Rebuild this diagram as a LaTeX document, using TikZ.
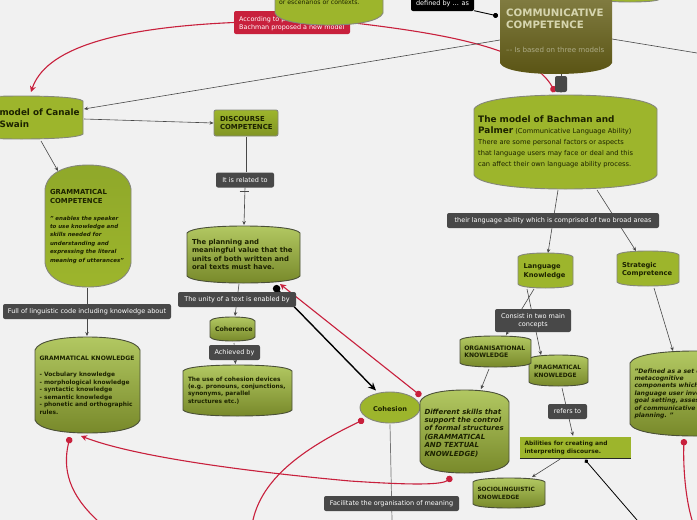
\documentclass[tikz,border=0pt]{standalone}
\usepackage{fontspec}
\setmainfont{DejaVu Sans}
\usetikzlibrary{arrows.meta,calc,shapes.geometric,backgrounds}
\definecolor{paper}{HTML}{F1F1F1}
\definecolor{gflat}{HTML}{9DB52C}
\definecolor{gtop}{HTML}{B2C862}
\definecolor{gmid}{HTML}{99B02B}
\definecolor{gbot}{HTML}{78892A}
\definecolor{gctop}{HTML}{8FA82A}
\definecolor{edgegray}{HTML}{85877A}
\definecolor{edgedark}{HTML}{4A4F38}
\definecolor{lab}{HTML}{484848}
\definecolor{redc}{HTML}{C8203C}
\definecolor{ink}{HTML}{1C2200}
\definecolor{otop}{HTML}{949058}
\definecolor{obot}{HTML}{5A5414}
\definecolor{otext}{HTML}{D6D5AE}
\definecolor{osub}{HTML}{ADAB86}
\pgfdeclarelayer{conn}
\pgfsetlayers{background,conn,main}
\tikzset{
  flatblob/.style={fill=gflat,draw=edgegray,line width=0.9pt},
  gradblob/.style={top color=gtop,middle color=gmid,bottom color=gbot,draw=edgedark,line width=0.9pt},
  labelbox/.style={fill=lab,text=white,rounded corners=2pt,inner sep=1pt,align=center,font=\fontsize{6.5}{8}\selectfont},
  thin link/.style={draw=lab,line width=0.6pt,-{Stealth[length=4pt,width=3.5pt]}},
  plain link/.style={draw=lab,line width=0.6pt},
  red link/.style={draw=redc,line width=1.1pt},
  redarrow/.style={-{Stealth[length=6pt,width=6pt]}},
  reddot/.style={{Circle[length=6.5pt]}-},
  reddotarrow/.style={{Circle[length=6.5pt]}-{Stealth[length=6pt,width=6pt]}},
}
% name, left, top, right, bottom, shoulder, style
\newcommand{\blob}[7]{%
  \pgfmathsetmacro{\bw}{#4-#2}\pgfmathsetmacro{\bh}{#5-#3}%
  \pgfmathsetmacro{\bm}{(#2+#4)/2}\pgfmathsetmacro{\bc}{(#3+#5)/2}%
  \path[#7] (#2,#3+#6) .. controls ({#2+0.03*\bw},{#3+0.3*#6}) and ({#2+0.25*\bw},#3) .. (\bm,#3)
     .. controls ({#4-0.25*\bw},#3) and ({#4-0.03*\bw},{#3+0.3*#6}) .. (#4,#3+#6)
     -- (#4,#5-#6)
     .. controls ({#4-0.03*\bw},{#5-0.3*#6}) and ({#4-0.25*\bw},#5) .. (\bm,#5)
     .. controls ({#2+0.25*\bw},#5) and ({#2+0.03*\bw},{#5-0.3*#6}) .. (#2,#5-#6) -- cycle;
  \node[inner sep=0,outer sep=0,minimum width=\bw pt,minimum height=\bh pt] (#1) at (\bm,\bc) {};%
}
% name, x, first baseline, size, leading, font commands, text
\newcommand{\txt}[7]{%
  \node[anchor=north west,inner sep=0,outer sep=0,align=left,text=ink,font=\fontsize{#4}{#5}\selectfont#6] (#1) at (#2,{#3-0.76*#4}) {#7};%
}
\begin{document}
\begin{tikzpicture}[x=1pt,y=-1pt]
\useasboundingbox (0,0) rectangle (697,520);
\begin{pgfonlayer}{background}
\fill[paper] (0,0) rectangle (697,520);
\end{pgfonlayer}
\clip (0,0) rectangle (697,520);

% ---- labels and boxes underneath the top node
\node[labelbox,fill=redc,minimum width=116pt,minimum height=23pt] (bIntro) at (292,22.5) {};
\node[anchor=base west,inner sep=0,text=white,font=\fontsize{6.4}{8}\selectfont] (bIntroA) at (239,21) {According to p};
\node[anchor=base west,inner sep=0,text=white,font=\fontsize{6.4}{8}\selectfont] (bIntroB) at (239,29) {Bachman proposed a new model};

\blob{nTop}{275}{-40}{383}{25}{12}{flatblob}
\txt{nTopT}{279}{4}{6.2}{8}{}{or escenarios or contexts.}

\blob{nSliver}{600}{-40}{660}{2}{3}{flatblob}

\node[labelbox,fill=black,minimum width=63pt,minimum height=14pt] (lDefined) at (442.5,4) {defined by ... as};

\blob{nComm}{500}{-40}{612}{74}{11}{top color=otop,bottom color=obot,draw=none}
\node[anchor=north west,inner sep=0,align=left,text=otext,font=\fontsize{10.2}{11.7}\selectfont\bfseries] (nCommT) at (506,9) {COMMUNICATIVE\\COMPETENCE};
\node[anchor=base west,inner sep=0,text=osub,font=\fontsize{7.1}{8}\selectfont] (nCommB) at (506,52.3) {--{}- Is based on three models};

\node[fill=lab,rounded corners=2pt,minimum width=12pt,minimum height=16pt,inner sep=0] (lGap) at (561,84) {};

\blob{nCanale}{-40}{96}{83}{139}{5}{flatblob}
\txt{nCanaleT}{-0.5}{115}{8.8}{12}{\bfseries}{model of Canale\\Swain}

\node[draw=edgegray,line width=0.9pt,rounded corners=2pt,top color=gflat,bottom color=gmid!85!black,minimum width=64pt,minimum height=26pt,inner sep=0] (nDisc) at (246,123) {};
\txt{nDiscT}{220}{122}{6.9}{8}{\bfseries}{DISCOURSE\\COMPETENCE}

\blob{nGC}{45}{165}{131}{287}{24}{top color=gctop,bottom color=gflat,draw=edgegray,line width=0.9pt}
\txt{nGCT}{50}{194.7}{6.9}{9}{\bfseries}{GRAMMATICAL\\COMPETENCE}
\txt{nGCB}{50}{220}{5.5}{8.4}{\bfseries\itshape}{" enables the speaker\\to use knowledge and\\skills needed for\\understanding and\\expressing the literal\\meaning of utterances"}

\node[labelbox,minimum width=58pt,minimum height=15pt] (lRel) at (245,180) {It is related to};

\blob{nPlan}{187}{226}{300}{283}{7}{gradblob}
\txt{nPlanT}{192}{244}{6.85}{8.5}{\bfseries}{The planning and\\meaningful value that the\\units of both written and\\oral texts must have.}

\node[labelbox,minimum width=118pt,minimum height=15pt] (lUnity) at (237,299.5) {The unity of a text is enabled by};

\blob{nCoh}{210}{317}{255}{341}{4}{gradblob}
\txt{nCohT}{215}{331.7}{6.3}{8}{\bfseries}{Coherence}

\node[labelbox,minimum width=51pt,minimum height=15pt] (lAch) at (234.5,352.5) {Achieved by};

\blob{nDev}{183}{365}{292}{416}{6}{gradblob}
\txt{nDevT}{188}{381}{5.85}{7.4}{\bfseries}{The use of cohesion devices\\(e.g. pronouns, conjunctions,\\synonyms, parallel\\structures etc.)}

\node[labelbox,minimum width=168pt,minimum height=15pt] (lFull) at (87,311.5) {Full of linguistic code including knowledge about};

\blob{nGK}{35}{337}{140}{433}{13}{gradblob}
\txt{nGKT}{39.5}{361}{6}{8}{\bfseries}{GRAMMATICAL KNOWLEDGE}
\txt{nGKB}{39.5}{376.5}{5.9}{7.5}{\bfseries}{- Vocbulary knowledge\\- morphological knowledge\\- syntactic knowledge\\- semantic knowledge\\- phonetic and orthographic\\rules.}

\node[ellipse,draw=edgegray,line width=0.9pt,fill=gflat,minimum width=60pt,minimum height=31pt,inner sep=0] (nCohes) at (390,407.5) {};
\node[inner sep=0,text=ink,font=\fontsize{6.6}{8}\selectfont\bfseries] (nCohesT) at (390,409) {Cohesion};

\blob{nSkills}{420}{390}{509}{473}{12}{gradblob}
\txt{nSkillsT}{424.5}{414}{7}{8.4}{\bfseries\itshape}{Different skills that\\support the control\\of formal structures\\(GRAMMATICAL\\AND TEXTUAL\\KNOWLEDGE)}

\blob{nPrag}{529}{355}{588}{386}{4}{gradblob}
\txt{nPragT}{534}{370}{5.9}{7.5}{\bfseries}{PRAGMATICAL\\KNOWLEDGE}

\blob{nOrg}{460}{336}{531}{367}{4}{gradblob}
\txt{nOrgT}{464.3}{350.7}{6.1}{7.4}{\bfseries}{ORGANISATIONAL\\KNOWLEDGE}

\blob{nLang}{518}{253}{573}{288}{4}{flatblob}
\txt{nLangT}{523.7}{269}{6.7}{9}{\bfseries}{Language\\Knowledge}

\blob{nStrat}{617}{251}{679}{286}{4}{flatblob}
\txt{nStratT}{622}{267.5}{6.7}{8.2}{\bfseries}{Strategic\\Compretence}

\blob{nBach}{474}{95}{657}{189}{14}{flatblob}
\node[anchor=north west,inner sep=0,align=left,text=ink,font=\fontsize{6.7}{11}\selectfont] (nBachT) at (478,116) {{\fontsize{8.9}{11}\selectfont\bfseries The model of Bachman and}\\{\fontsize{8.9}{11}\selectfont\bfseries Palmer} (Communicative Language Ability)\\There are some personal factors or aspects\\that language users may face or deal and this\\can affect their own language ability process.};

\node[labelbox,minimum width=212pt,minimum height=15pt] (lBroad) at (553,220.5) {their language ability which is comprised of two broad areas};
\node[labelbox,minimum width=76pt,minimum height=23pt] (lConsist) at (533,320.5) {Consist in two main\\concepts};
\node[labelbox,minimum width=39pt,minimum height=15pt] (lRefers) at (567.5,411.5) {refers to};

\node[fill=gflat,minimum width=111pt,minimum height=21pt,inner sep=0] (nAbil) at (575.5,447.5) {};
\draw[black!85,line width=0.7pt] (nAbil.south west) -- (nAbil.south east);
\txt{nAbilT}{524.5}{445}{5.9}{8}{\bfseries\color{black}}{Abilities for creating and\\interpreting discourse.}

\blob{nSocio}{473}{478}{545}{508}{4}{gradblob}
\txt{nSocioT}{477.5}{491.7}{5.8}{7.4}{\bfseries}{SOCIOLINGUISTIC\\KNOWLEDGE}

\blob{nDef}{630}{351}{760}{436}{12}{gradblob}
\txt{nDefT}{634.5}{373}{6.1}{7.4}{\bfseries\itshape}{"Defined as a set of\\metacognitive\\ components which\\language user invo\\goal setting, assess\\of communicative s\\planning. "}

\node[labelbox,minimum width=135pt,minimum height=15pt] (lFac) at (391.5,503.5) {Facilitate the organisation of meaning};

% ---- free ends, off the picture
\coordinate (offA) at (697,53);
\coordinate (offB) at (392,520);
\coordinate (offC) at (253,520);
\coordinate (offD) at (97,520);
\coordinate (offE) at (692,520);
\coordinate (offF) at (637,520);

\begin{pgfonlayer}{conn}
% red model link through its label
\draw[red link,reddot] ([shift={(-10.5,-3)}]nBach.north) .. controls (530,46) and (430,32) .. (bIntro.east);
\draw[red link,redarrow] (bIntro.west) .. controls (110,28) and (45,50) .. ([shift={(9.5,-4)}]nCanale.north);
% thin links
\draw[thin link] ([shift={(0,23)}]nComm.west) -- ([shift={(1,-8.5)}]nCanale.east);
\draw[plain link] ([shift={(0,22)}]nComm.east) -- (offA);
\draw[thin link] ([shift={(1,1.5)}]nCanale.east) -- (nDisc.west);
\draw[thin link] ([shift={(-42,2)}]nCanale.south east) -- ([shift={(-30,6)}]nGC.north);
\draw[draw=lab,line width=1pt] ([shift={(0,1)}]nDisc.south) -- (lRel.north -| nDisc.south);
\draw[thin link] (lRel.south) -- ([shift={(0.5,-1)}]nPlan.north);
\draw[plain link] ([shift={(-4,-35)}]nPlan.north) -- ([shift={(5,-35)}]nPlan.north);
\draw[thin link] ([shift={(-4.5,1)}]nPlan.south) -- ([shift={(2.5,-1)}]nCoh.north);
\draw[thin link] ([shift={(1.5,2)}]nCoh.south) -- ([shift={(-2,-1)}]nDev.north);
\draw[thin link] ([shift={(-1,1)}]nGC.south) -- ([shift={(-0.5,-1)}]nGK.north);
\draw[thin link] (nComm.south -| lGap.north) -- ([shift={(0,-2)}]nBach.north -| lGap.south);
\draw[thin link] ([shift={(-7.5,1)}]nBach.south) -- ([shift={(2.5,0)}]nLang.north);
\draw[thin link] ([shift={(31.5,1)}]nBach.south) -- ([shift={(-12,0)}]nStrat.north);
\draw[thin link] ([shift={(-11.5,1)}]nLang.south) -- ([shift={(10.5,-1)}]nOrg.north);
\draw[thin link] ([shift={(-18.5,1)}]nLang.south) -- ([shift={(-17.5,0)}]nPrag.north);
\draw[thin link] ([shift={(-6.5,2)}]nOrg.south) -- ([shift={(16.5,-1)}]nSkills.north);
\draw[thin link] ([shift={(3.5,2)}]nPrag.south) -- ([shift={(-2.5,-1)}]nAbil.north);
\draw[thin link] ([shift={(-15.5,1)}]nAbil.south) -- ([shift={(23,-1)}]nSocio.north);
\draw[thin link] ([shift={(-25,2)}]nStrat.south east) -- ([shift={(-22,0)}]nDef.north);
\draw[plain link,draw=black!55,line width=0.7pt] ([shift={(0,1)}]nCohes.south) -- (offB);
% black links
\draw[black,line width=0.9pt,-{Circle[length=5pt]}] ([shift={(0,-0.5)}]lDefined.south east) -- ([shift={(-2,-1)}]nComm.west);
\draw[black,line width=1.4pt,{Circle[length=7.5pt]}-{Stealth[length=8pt,width=7pt]}] ([shift={(30.5,3)}]nPlan.south) -- ([shift={(-14,-1)}]nCohes.north);
\draw[black,line width=0.8pt,{Circle[length=4pt]}-] ([shift={(9.5,1.5)}]nAbil.south) -- (offF);
% red links
\draw[red link,reddotarrow] ([shift={(-43.5,6)}]nSkills.north) -- ([shift={(36.5,1)}]nPlan.south);
\draw[red link,reddot] ([shift={(-26,12)}]nCohes.center) .. controls (300,450) and (262,480) .. (offC);
\draw[red link,reddotarrow] ([shift={(-12.5,4)}]nSkills.south) .. controls (440,486) and (395,484) .. (350,481) .. controls (230,470) and (130,455) .. ([shift={(-6.5,3)}]nGK.south);
\draw[red link,reddot] ([shift={(-17.5,4)}]nGK.south) .. controls (62,470) and (70,495) .. (offD);
\draw[red link,reddot] ([shift={(-11,3)}]nDef.south) .. controls (683,470) and (686,500) .. (offE);
\end{pgfonlayer}
\end{tikzpicture}
\end{document}
